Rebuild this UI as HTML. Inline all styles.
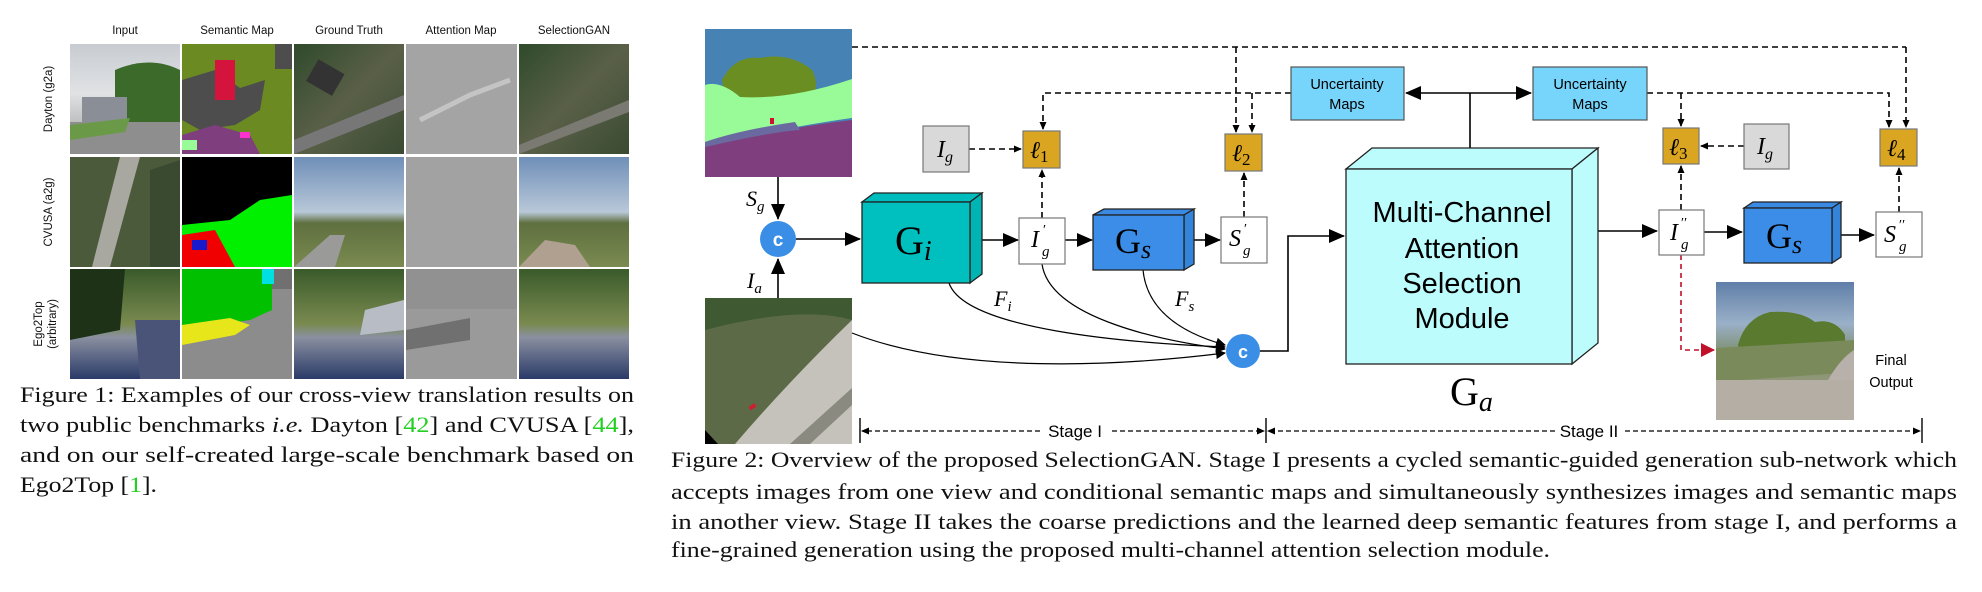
<!DOCTYPE html>
<html><head><meta charset="utf-8"><style>
html,body{margin:0;padding:0;background:#fff;}
#wrap{position:relative;width:1982px;height:592px;overflow:hidden;background:#fff;}
svg{position:absolute;left:0;top:0;}
</style></head><body><div id="wrap">
<svg width="1982" height="592" viewBox="0 0 1982 592" xmlns="http://www.w3.org/2000/svg">
<defs>
<marker id="ah" markerWidth="10" markerHeight="10" refX="9" refY="5" orient="auto" markerUnits="userSpaceOnUse"><path d="M0,0 L10,5 L0,10 z" fill="#000"/></marker>
<marker id="ahs" markerWidth="8" markerHeight="8" refX="7" refY="4" orient="auto" markerUnits="userSpaceOnUse"><path d="M0,0.5 L8,4 L0,7.5 z" fill="#000"/></marker>
<marker id="ahb" markerWidth="16" markerHeight="14" refX="15" refY="7" orient="auto" markerUnits="userSpaceOnUse"><path d="M0,0 L16,7 L0,14 z" fill="#000"/></marker>
<marker id="ahr" markerWidth="14" markerHeight="14" refX="13" refY="7" orient="auto" markerUnits="userSpaceOnUse"><path d="M0,0 L14,7 L0,14 z" fill="#c0102a"/></marker>
<linearGradient id="sky" x1="0" y1="0" x2="0" y2="1"><stop offset="0" stop-color="#c8ccd2"/><stop offset="0.45" stop-color="#e0e2e4"/><stop offset="1" stop-color="#9a9a98"/></linearGradient>
<linearGradient id="sky2" x1="0" y1="0" x2="0" y2="1"><stop offset="0" stop-color="#6f8fb8"/><stop offset="0.5" stop-color="#b8c8d8"/><stop offset="0.6" stop-color="#5f7040"/><stop offset="1" stop-color="#7a8a50"/></linearGradient>
<linearGradient id="aer" x1="0" y1="0" x2="1" y2="1"><stop offset="0" stop-color="#2f4a2a"/><stop offset="0.5" stop-color="#5a6048"/><stop offset="1" stop-color="#3a4a32"/></linearGradient>
<linearGradient id="ego" x1="0" y1="0" x2="0" y2="1"><stop offset="0" stop-color="#3a5a2a"/><stop offset="0.5" stop-color="#7a8a50"/><stop offset="0.62" stop-color="#8a90a0"/><stop offset="1" stop-color="#2a3a68"/></linearGradient>
<linearGradient id="fin" x1="0" y1="0" x2="0" y2="1"><stop offset="0" stop-color="#5f7ea8"/><stop offset="0.3" stop-color="#9ab0c8"/><stop offset="0.55" stop-color="#7a8a60"/><stop offset="1" stop-color="#b8b0a8"/></linearGradient>
</defs>

<!-- ===== Figure 1 ===== -->
<g font-family="Liberation Sans, sans-serif" font-size="11.5" fill="#111" text-anchor="middle">
<text x="125" y="34">Input</text><text x="237" y="34">Semantic Map</text><text x="349" y="34">Ground Truth</text><text x="461" y="34">Attention Map</text><text x="574" y="34">SelectionGAN</text>
<text transform="translate(52,99) rotate(-90)">Dayton (g2a)</text>
<text transform="translate(52,212) rotate(-90)">CVUSA (a2g)</text>
<text transform="translate(42,324) rotate(-90)">Ego2Top</text>
<text transform="translate(56,324) rotate(-90)">(arbitrary)</text>
</g>
<rect x="70" y="44" width="110" height="110" fill="url(#sky)"/>
<path d="M115,70 Q150,55 180,70 L180,125 L115,125z" fill="#3c6a2a"/>
<rect x="82" y="97" width="45" height="25" fill="#8a8e96"/><rect x="70" y="122" width="110" height="32" fill="#8e8e8e"/><path d="M70,125 L130,118 L125,132 L70,140z" fill="#6a9a48"/>
<rect x="182" y="44" width="110" height="110" fill="#6b8a22"/>
<path d="M182,80 L215,70 L240,88 L265,80 L260,110 L235,125 L200,130 L182,120z" fill="#4d4d4d"/>
<rect x="215" y="60" width="20" height="40" fill="#d4143c"/>
<path d="M182,135 L215,125 L250,135 L260,154 L182,154z" fill="#7f3f7f"/><rect x="182" y="140" width="15" height="10" fill="#98fb98"/><rect x="275" y="44" width="17" height="25" fill="#4d4d4d"/><rect x="240" y="132" width="10" height="6" fill="#ff33cc"/>
<rect x="294" y="44" width="110" height="110" fill="url(#aer)"/>
<path d="M294,140 L404,95 L404,110 L294,154z" fill="#777"/><rect x="310" y="65" width="30" height="25" fill="#333" transform="rotate(30 325 78)"/>
<rect x="406" y="44" width="111" height="110" fill="#a4a4a4"/><path d="M420,120 L470,95 L510,80" stroke="#c4c4c4" stroke-width="5" fill="none"/>
<rect x="519" y="44" width="110" height="110" fill="url(#aer)"/><path d="M519,145 L629,100 L629,112 L519,154z" fill="#7a7a72"/>
<rect x="70" y="157" width="110" height="110" fill="#4a5a3a"/><path d="M120,157 L140,157 L110,267 L92,267z" fill="#a8a8a0"/><path d="M150,170 L180,160 L180,267 L150,267z" fill="#3a4a30"/>
<rect x="182" y="157" width="110" height="110" fill="#000"/><path d="M182,225 L230,220 L260,200 L292,195 L292,267 L182,267z" fill="#00f000"/><path d="M182,235 L215,230 L235,267 L182,267z" fill="#f00000"/><rect x="192" y="240" width="15" height="10" fill="#1a1acc"/>
<rect x="294" y="157" width="110" height="110" fill="url(#sky2)"/><path d="M294,267 L330,235 L345,235 L335,267z" fill="#9a9a98"/>
<rect x="406" y="157" width="111" height="110" fill="#a2a2a2"/>
<rect x="519" y="157" width="110" height="110" fill="url(#sky2)"/><path d="M519,267 L545,240 L575,245 L590,267z" fill="#b0a090"/>
<rect x="70" y="269" width="110" height="110" fill="url(#ego)"/><path d="M70,269 L125,269 L120,330 L70,340z" fill="#1e3218"/><path d="M135,320 L180,320 L180,379 L140,379z" fill="#4a5478"/>
<rect x="182" y="269" width="110" height="110" fill="#8c8c8c"/><path d="M182,269 L272,269 L272,310 L250,320 L182,330z" fill="#00c000"/><path d="M182,325 L230,318 L250,325 L235,335 L182,345z" fill="#e6e61a"/><rect x="272" y="269" width="20" height="20" fill="#707070"/><rect x="262" y="269" width="12" height="15" fill="#00e0e0"/>
<rect x="294" y="269" width="110" height="110" fill="url(#ego)"/><path d="M365,310 L404,300 L404,330 L360,335z" fill="#b8bcc4"/>
<rect x="406" y="269" width="111" height="110" fill="#9a9a9a"/><path d="M406,330 L470,318 L470,340 L406,350z" fill="#707070"/><rect x="406" y="269" width="111" height="40" fill="#888" opacity="0.5"/>
<rect x="519" y="269" width="110" height="110" fill="url(#ego)"/>

<!-- captions -->
<g font-family="Liberation Serif, serif" font-size="22" fill="#111">
<text x="20" y="402" textLength="614" lengthAdjust="spacingAndGlyphs">Figure 1: Examples of our cross-view translation results on</text>
<text x="20" y="432" textLength="614" lengthAdjust="spacingAndGlyphs">two public benchmarks <tspan font-style="italic">i.e.</tspan> Dayton [<tspan fill="#22d022">42</tspan>] and CVUSA [<tspan fill="#22d022">44</tspan>],</text>
<text x="20" y="462" textLength="614" lengthAdjust="spacingAndGlyphs">and on our self-created large-scale benchmark based on</text>
<text x="20" y="492" textLength="137" lengthAdjust="spacingAndGlyphs">Ego2Top [<tspan fill="#22d022">1</tspan>].</text>
<text x="671" y="467" textLength="1286" lengthAdjust="spacingAndGlyphs">Figure 2: Overview of the proposed SelectionGAN. Stage I presents a cycled semantic-guided generation sub-network which</text>
<text x="671" y="499" textLength="1286" lengthAdjust="spacingAndGlyphs">accepts images from one view and conditional semantic maps and simultaneously synthesizes images and semantic maps</text>
<text x="671" y="529" textLength="1286" lengthAdjust="spacingAndGlyphs">in another view.  Stage II takes the coarse predictions and the learned deep semantic features from stage I, and performs a</text>
<text x="671" y="557" textLength="879" lengthAdjust="spacingAndGlyphs">fine-grained generation using the proposed multi-channel attention selection module.</text>
</g>

<!-- ===== Figure 2 ===== -->
<rect x="705" y="29" width="147" height="148" fill="#4682b4"/>
<path d="M722,80 Q735,55 760,58 Q790,52 812,70 Q820,85 812,98 L725,100z" fill="#6b8e23"/>
<path d="M705,85 Q720,80 740,97 Q790,100 852,79 L852,118 Q800,125 705,145z" fill="#98fb98"/>
<path d="M705,147 Q770,130 852,120 L852,177 L705,177z" fill="#7f3f7f"/>
<path d="M705,147 Q770,132 800,130 L795,122 Q740,130 705,142z" fill="#6a6aa0"/>
<rect x="770" y="118" width="4" height="6" fill="#d01030"/>
<rect x="705" y="298" width="147" height="146" fill="#5d6a48"/>
<path d="M705,298 L852,298 L852,320 Q800,305 705,330z" fill="#3f5a33"/>
<path d="M852,320 L852,444 L735,444 Q790,380 852,320z" fill="#c4c2ba"/>
<path d="M852,388 L852,405 L810,444 L790,444z" fill="#8a8a80"/>
<path d="M705,430 L718,444 L705,444z" fill="#000"/>
<rect x="749" y="405" width="7" height="4" fill="#cc2030" transform="rotate(-35 752 407)"/>

<g stroke="#000" stroke-width="1.6" stroke-dasharray="6,4" fill="none">
<path d="M852,47 L1906,47"/>
<path d="M1236,47 L1236,132" marker-end="url(#ahs)"/>
<path d="M1906,47 L1906,127" marker-end="url(#ahs)"/>
<path d="M1291,93 L1043,93 L1043,129" marker-end="url(#ahs)"/>
<path d="M1252,93 L1252,132" marker-end="url(#ahs)"/>
<path d="M1647,93 L1889,93 L1889,127" marker-end="url(#ahs)"/>
<path d="M1681,93 L1681,126" marker-end="url(#ahs)"/>
<path d="M969,149 L1021,149" marker-end="url(#ahs)"/>
<path d="M1042,218 L1042,170" marker-end="url(#ahs)"/>
<path d="M1244,217 L1244,173" marker-end="url(#ahs)"/>
<path d="M1744,146 L1701,146" marker-end="url(#ahs)"/>
<path d="M1681,210 L1681,166" marker-end="url(#ahs)"/>
<path d="M1899,212 L1899,168" marker-end="url(#ahs)"/>
</g>
<path d="M1681,255 L1681,350 L1714,350" stroke="#c0102a" stroke-width="1.6" stroke-dasharray="5,4" fill="none" marker-end="url(#ahr)"/>

<g stroke="#000" stroke-width="1.6" fill="none">
<path d="M778,177 L778,219" marker-end="url(#ahb)"/>
<path d="M778,298 L778,259" marker-end="url(#ahb)"/>
<path d="M796,239 L860,239" marker-end="url(#ahb)"/>
<path d="M977,240 L1018,240" marker-end="url(#ahb)"/>
<path d="M1065,240 L1092,240" marker-end="url(#ahb)"/>
<path d="M1188,240 L1220,240" marker-end="url(#ahb)"/>
<path d="M1260,351 L1288,351 L1288,236 L1344,236" marker-end="url(#ahb)"/>
<path d="M1578,231 L1657,231" marker-end="url(#ahb)"/>
<path d="M1704,232 L1742,232" marker-end="url(#ahb)"/>
<path d="M1836,235 L1874,235" marker-end="url(#ahb)"/>
<path d="M1470,160 L1470,93"/>
<path d="M1470,93 L1406,93" marker-end="url(#ahb)"/>
<path d="M1470,93 L1531,93" marker-end="url(#ahb)"/>
<path d="M949,283 C965,330 1130,343 1225,347" stroke-width="1.2" marker-end="url(#ah)"/>
<path d="M1042,264 C1050,320 1170,342 1225,349" stroke-width="1.2" marker-end="url(#ah)"/>
<path d="M1143,270 C1148,320 1200,338 1225,345" stroke-width="1.2" marker-end="url(#ah)"/>
<path d="M852,333 C960,375 1120,366 1225,353" stroke-width="1.2" marker-end="url(#ah)"/>
</g>

<circle cx="778" cy="239" r="18" fill="#3a8ee6"/><text x="778" y="246" font-family="Liberation Sans, sans-serif" font-weight="bold" font-size="19" fill="#fff" text-anchor="middle">c</text>
<circle cx="1243" cy="351" r="17" fill="#3a8ee6"/><text x="1243" y="358" font-family="Liberation Sans, sans-serif" font-weight="bold" font-size="18" fill="#fff" text-anchor="middle">c</text>

<g stroke="#222" stroke-width="1.3">
<polygon points="862,202 874,193 982,193 970,202" fill="#00bdbd"/><polygon points="970,202 982,193 982,274 970,283" fill="#00b4b4"/><rect x="862" y="202" width="108" height="81" fill="#00bfbf"/>
<polygon points="1093,215 1104,209 1194,209 1184,215" fill="#3a8ae4"/><polygon points="1184,215 1194,209 1194,264 1184,270" fill="#3584dc"/><rect x="1093" y="215" width="91" height="55" fill="#3b8de8"/>
<polygon points="1744,208 1753,202 1841,202 1832,208" fill="#3a8ae4"/><polygon points="1832,208 1841,202 1841,257 1832,263" fill="#3584dc"/><rect x="1744" y="208" width="88" height="55" fill="#3b8de8"/>
<polygon points="1346,169 1372,148 1598,148 1572,169" fill="#bdfcfc"/><polygon points="1572,169 1598,148 1598,343 1572,364" fill="#bdfcfc"/><rect x="1346" y="169" width="226" height="195" fill="#bdfcfc"/>
</g>
<g font-family="Liberation Serif, serif" fill="#000">
<text x="895" y="254" font-size="40">G<tspan font-style="italic" font-size="28" dy="6">i</tspan></text>
<text x="1115" y="253" font-size="36">G<tspan font-style="italic" font-size="26" dy="5">s</tspan></text>
<text x="1766" y="248" font-size="36">G<tspan font-style="italic" font-size="26" dy="5">s</tspan></text>
<text x="1450" y="405" font-size="40">G<tspan font-style="italic" font-size="28" dy="6">a</tspan></text>
</g>
<g font-family="Liberation Sans, sans-serif" font-size="29" fill="#000" text-anchor="middle">
<text x="1462" y="222">Multi-Channel</text><text x="1462" y="258">Attention</text><text x="1462" y="293">Selection</text><text x="1462" y="328">Module</text>
</g>

<g stroke="#555" stroke-width="1.2"><rect x="1291" y="67" width="113" height="53" fill="#77d4fa"/><rect x="1533" y="67" width="114" height="53" fill="#77d4fa"/></g>
<g font-family="Liberation Sans, sans-serif" font-size="14.5" fill="#000" text-anchor="middle">
<text x="1347" y="89">Uncertainty</text><text x="1347" y="109">Maps</text>
<text x="1590" y="89">Uncertainty</text><text x="1590" y="109">Maps</text>
<text x="1891" y="365">Final</text><text x="1891" y="387">Output</text>
</g>

<g stroke="#777" stroke-width="1.2">
<rect x="923" y="126" width="46" height="46" fill="#d9d9d9"/>
<rect x="1744" y="124" width="45" height="45" fill="#d9d9d9"/>
<rect x="1023" y="131" width="37" height="37" fill="#daa520"/>
<rect x="1225" y="134" width="37" height="37" fill="#daa520"/>
<rect x="1663" y="128" width="36" height="36" fill="#daa520"/>
<rect x="1880" y="129" width="37" height="37" fill="#daa520"/>
<rect x="1019" y="218" width="46" height="46" fill="#fff"/>
<rect x="1221" y="217" width="46" height="46" fill="#fff"/>
<rect x="1659" y="210" width="45" height="45" fill="#fff"/>
<rect x="1876" y="212" width="46" height="45" fill="#fff"/>
</g>
<g font-family="Liberation Serif, DejaVu Serif, serif" fill="#000" font-style="italic">
<text x="937" y="157" font-size="24">I<tspan font-size="16" dy="5">g</tspan></text>
<text x="1757" y="154" font-size="24">I<tspan font-size="16" dy="5">g</tspan></text>
<text x="1030" y="158" font-size="24">ℓ<tspan font-style="normal" font-size="17" dy="4">1</tspan></text>
<text x="1232" y="161" font-size="24">ℓ<tspan font-style="normal" font-size="17" dy="4">2</tspan></text>
<text x="1669" y="155" font-size="24">ℓ<tspan font-style="normal" font-size="17" dy="4">3</tspan></text>
<text x="1887" y="156" font-size="24">ℓ<tspan font-style="normal" font-size="17" dy="4">4</tspan></text>
<text x="1031" y="247" font-size="24">I</text><text x="1042" y="256" font-size="15">g</text><text x="1043" y="234" font-size="14" font-style="normal">′</text>
<text x="1229" y="246" font-size="24">S</text><text x="1243" y="255" font-size="15">g</text><text x="1244" y="233" font-size="14" font-style="normal">′</text>
<text x="1670" y="240" font-size="24">I</text><text x="1681" y="249" font-size="15">g</text><text x="1681" y="227" font-size="14" font-style="normal">′′</text>
<text x="1884" y="242" font-size="24">S</text><text x="1899" y="251" font-size="15">g</text><text x="1899" y="229" font-size="14" font-style="normal">′′</text>
<text x="746" y="206" font-size="22">S<tspan font-size="15" dy="5">g</tspan></text>
<text x="747" y="288" font-size="22">I<tspan font-size="15" dy="5">a</tspan></text>
<text x="994" y="306" font-size="22">F<tspan font-size="15" dy="5">i</tspan></text>
<text x="1175" y="306" font-size="22">F<tspan font-size="15" dy="5">s</tspan></text>
</g>

<rect x="1716" y="282" width="138" height="138" fill="url(#fin)"/>
<path d="M1738,345 Q1745,318 1770,312 Q1800,310 1815,322 Q1835,318 1845,335 L1845,350 L1740,352z" fill="#5a7a30"/>
<path d="M1716,348 L1854,340 L1854,372 L1716,382z" fill="#7a8a5a"/>
<path d="M1810,420 Q1830,365 1854,350 L1854,420z" fill="#b8b0aa"/>
<rect x="1716" y="380" width="138" height="40" fill="#b4aea4"/>

<g stroke="#000" stroke-width="1.4">
<line x1="860" y1="418" x2="860" y2="443"/><line x1="1266" y1="418" x2="1266" y2="443"/><line x1="1922" y1="418" x2="1922" y2="443"/>
</g>
<g stroke="#000" stroke-width="1.3" stroke-dasharray="5,3" fill="none">
<path d="M1040,431 L862,431" marker-end="url(#ahs)"/>
<path d="M1112,431 L1264,431" marker-end="url(#ahs)"/>
<path d="M1555,431 L1268,431" marker-end="url(#ahs)"/>
<path d="M1625,431 L1920,431" marker-end="url(#ahs)"/>
</g>
<g font-family="Liberation Sans, sans-serif" font-size="17" fill="#000" text-anchor="middle">
<text x="1075" y="437">Stage I</text><text x="1589" y="437">Stage II</text>
</g>
</svg>
</div></body></html>
